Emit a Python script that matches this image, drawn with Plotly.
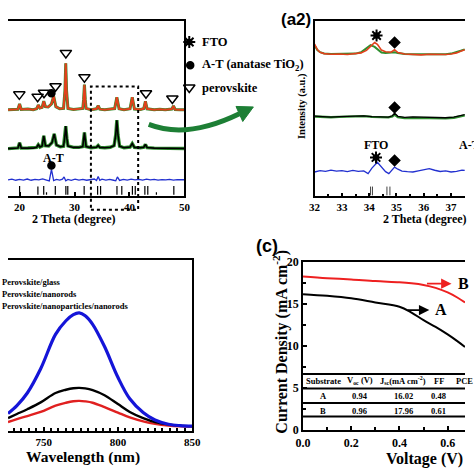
import plotly.graph_objects as go

W = H = 474
def px(x): return x / W
def py(y): return 1 - y / H

SERIF = "Liberation Serif, Times New Roman, serif"
SANS = "Liberation Sans, Arial, sans-serif"

# ---------------- (a1) XRD full range ----------------
a1_theta_top = [17.9, 19.0, 19.7, 20.0, 20.3, 21.5, 22.5, 23.1, 23.4, 23.7, 24.1, 24.4, 24.7, 25.2, 25.8, 26.2, 26.6,
                27.3, 28.0, 28.25, 28.4, 28.55, 28.8, 29.8, 30.8, 31.5, 31.65, 31.8, 31.95, 32.1, 33.0, 34.0, 34.3, 34.6,
                35.5, 36.5, 37.3, 37.7, 38.1, 39.0, 40.1, 40.5, 40.9, 42.0, 42.6, 42.9, 43.2, 44.5, 45.5, 46.5,
                47.7, 48.0, 48.3, 49.2, 50.0]
a1_int_top = [49.2, 49.6, 49.5, 52.5, 49.4, 49.7, 49.3, 49.8, 51.9, 50.2, 50.6, 54.1, 51.0, 50.8, 52.5, 56.9, 51.0,
              49.8, 50.0, 60.0, 75.7, 60.0, 50.0, 49.4, 49.6, 50.0, 55.0, 63.5, 55.0, 50.0, 49.3, 49.8, 51.5, 49.6,
              49.2, 49.4, 49.9, 56.4, 49.8, 49.3, 49.8, 56.4, 49.6, 49.4, 49.9, 54.1, 49.8, 49.3, 49.5, 49.2,
              49.6, 51.4, 49.4, 49.3, 49.2]
a1_theta_mid = [17.9, 19.0, 19.7, 20.0, 20.3, 21.5, 22.5, 23.1, 23.4, 23.7, 24.1, 24.4, 24.7, 25.3, 25.9, 26.3, 26.7,
                27.4, 28.0, 28.2, 28.4, 28.6, 28.8, 29.8, 30.8, 31.5, 31.8, 32.1, 33.0, 34.0, 34.3, 34.6, 35.5, 36.5,
                37.2, 37.5, 37.7, 37.9, 38.2, 39.0, 40.1, 40.5, 40.9, 42.0, 42.6, 42.9, 43.2, 44.5, 46.0, 48.0, 50.0]
a1_int_mid = [27.1, 27.3, 27.5, 30.4, 27.4, 27.5, 27.4, 27.8, 29.3, 28.0, 28.6, 34.4, 28.8, 28.6, 30.5, 35.5, 29.2,
              28.2, 28.5, 33.0, 39.9, 33.0, 28.6, 27.8, 27.8, 28.3, 36.3, 28.3, 27.6, 27.9, 28.9, 27.8, 27.6, 27.9,
              28.8, 35.0, 43.3, 35.0, 28.5, 27.6, 28.0, 30.0, 27.8, 27.6, 27.9, 29.5, 27.7, 27.4, 27.3, 27.3, 27.2]
a1_theta_bot = [17.9, 18.6, 19.3, 20.0, 20.7, 21.4, 22.1, 22.8, 23.5, 24.2, 24.9, 25.4, 25.8, 26.2, 26.7, 27.3, 27.8,
                28.1, 28.4, 28.8, 29.4, 30.1, 30.8, 31.5, 32.2, 32.9, 33.6, 34.0, 34.3, 34.6, 35.0, 35.7, 36.4, 37.1,
                37.5, 37.8, 38.2, 38.9, 39.6, 40.3, 41.0, 41.7, 42.4, 43.1, 43.8, 44.5, 45.2, 45.9, 46.6, 47.3,
                48.0, 48.7, 49.4, 50.0]
a1_int_bot = [9.3, 9.7, 9.1, 9.6, 9.2, 9.8, 9.1, 9.6, 9.3, 9.9, 9.2, 8.7, 15.3, 8.9, 9.6, 9.2, 9.7, 11.0, 8.8, 9.6,
              9.1, 9.7, 9.2, 9.6, 9.1, 9.5, 9.8, 8.9, 11.3, 9.1, 9.7, 9.2, 9.6, 9.1, 8.8, 11.0, 9.0, 9.6, 9.2, 9.7,
              9.3, 9.6, 9.2, 9.7, 9.3, 9.6, 9.2, 9.5, 9.3, 9.6, 9.2, 9.5, 9.3, 9.4]
a1_ref_theta = [20.0, 23.33, 24.39, 24.9, 26.5, 28.42, 28.77, 31.75, 34.2, 34.74, 37.72, 38.6, 40.53, 41.05,
                42.8, 43.33, 44.9, 48.07]
a1_ref_height = [5.0, 4.6, 5.0, 1.4, 5.0, 5.0, 5.0, 5.0, 5.0, 5.0, 5.0, 5.0, 5.0, 5.0, 5.0, 5.0, 1.4, 5.0]
a1_ref_base = 0.9
a1_pero_theta = [19.95, 23.28, 24.44, 26.54, 28.42, 31.8, 43.0, 47.8]
a1_pero_y = [58.0, 56.7, 58.9, 62.6, 81.6, 67.8, 58.6, 55.6]
a1_at_theta = [25.79, 25.79]
a1_at_y = [58.6, 17.5]
legend_labels = ["FTO", "A-T (anatase TiO<sub>2</sub>)", "perovskite"]

# ---------------- (a2) XRD zoom 32-38 ----------------
a2_theta_top = [32.0, 32.1, 32.2, 32.35, 32.6, 32.9, 33.2, 33.5, 33.7, 33.9, 34.05, 34.2, 34.3, 34.45, 34.6,
                34.8, 34.93, 35.05, 35.3, 35.6, 35.9, 36.2, 36.5, 36.8, 37.0, 37.2, 37.35, 37.5]
a2_int_top_red = [86.6, 83.5, 82.0, 81.2, 80.8, 81.0, 80.7, 81.0, 81.6, 83.0, 85.0, 87.5, 86.5, 83.2, 82.3,
                  82.0, 83.4, 81.8, 81.0, 80.6, 80.5, 80.8, 80.6, 80.7, 81.0, 81.6, 82.6, 83.4]
a2_int_top_grn = [86.0, 83.2, 82.0, 81.3, 81.0, 81.1, 81.0, 81.2, 82.0, 84.2, 86.0, 85.0, 83.5, 81.8, 81.5,
                  81.6, 81.9, 81.5, 81.0, 80.9, 80.8, 80.9, 80.8, 80.9, 81.2, 81.9, 82.8, 83.6]
a2_theta_mid = [32.0, 32.3, 32.6, 32.9, 33.2, 33.5, 33.8, 34.1, 34.4, 34.7, 34.85, 34.93, 35.05, 35.3, 35.6,
                35.9, 36.2, 36.5, 36.8, 37.1, 37.3, 37.5]
a2_int_mid_blk = [45.6, 45.2, 45.0, 45.3, 45.5, 45.9, 45.8, 45.3, 45.2, 45.0, 45.8, 47.3, 45.5, 44.9, 45.2,
                  45.0, 44.8, 44.9, 44.7, 45.0, 45.9, 46.4]
a2_int_mid_grn = [45.4, 45.1, 45.0, 45.2, 45.4, 45.7, 45.6, 45.2, 45.0, 44.9, 45.5, 46.5, 45.0, 44.5, 44.6,
                  44.5, 44.4, 44.5, 44.4, 44.7, 45.4, 46.0]
a2_theta_bot = [32.0, 32.2, 32.4, 32.6, 32.8, 33.0, 33.2, 33.4, 33.6, 33.8, 33.96, 34.1, 34.3, 34.45, 34.6,
                34.72, 34.85, 34.93, 35.05, 35.2, 35.4, 35.6, 35.8, 36.0, 36.2, 36.4, 36.6, 36.8, 37.0, 37.2,
                37.4, 37.5]
a2_int_bot = [13.8, 14.6, 14.2, 14.9, 14.3, 14.6, 14.0, 14.7, 14.2, 14.4, 12.9, 16.0, 19.3, 16.5, 14.0,
              12.9, 15.2, 16.6, 15.4, 14.3, 14.0, 13.8, 14.5, 15.1, 15.7, 14.8, 14.1, 14.4, 13.8, 14.2,
              14.9, 14.7]
a2_fto_theta = [34.27, 34.25]
a2_fto_y = [91.5, 22.1]
a2_dia_theta = [34.93, 34.93, 34.93]
a2_dia_y = [87.5, 50.5, 20.3]
a2_ref_theta = [34.05, 34.12, 34.65, 34.76]
a2_ref_base = 0.5
a2_ref_top = 5.5

# ---------------- (b) PL spectra ----------------
pl_wl = [726, 732, 739, 748, 758, 765, 770, 774, 778, 783, 791, 800, 808, 817, 825, 834, 842, 850]
pl_glass = [5.3, 7.0, 8.8, 11.2, 14.9, 16.6, 17.5, 17.7, 17.4, 16.6, 14.0, 10.8, 8.0, 5.7, 4.2, 3.2, 2.8, 2.7]
pl_rods = [7.6, 10.0, 12.8, 16.8, 22.3, 24.2, 25.1, 25.3, 25.0, 24.0, 21.0, 15.8, 11.2, 7.6, 5.3, 3.9, 3.2, 2.9]
pl_np_rods = [10.3, 14.9, 22.3, 36.5, 56.6, 64.6, 68.2, 69.2, 67.5, 62.5, 49.5, 31.5, 18.9, 10.9, 6.5, 4.0,
              3.2, 2.9]
pl_labels = ["Perovskite/glass", "Perovskite/nanorods", "Perovskite/nanoparticles/nanorods"]

# ---------------- (c) J-V curves ----------------
jv_v = [0.0, 0.1, 0.2, 0.3, 0.4, 0.45, 0.5, 0.55, 0.6, 0.64, 0.672]
jv_a = [16.2, 16.0, 15.7, 15.2, 14.7, 14.0, 13.1, 12.3, 11.4, 10.6, 9.9]
jv_b = [18.3, 18.1, 17.95, 17.75, 17.62, 17.5, 17.3, 16.95, 16.4, 15.8, 15.2]
tbl_header = ["Substrate", "V<sub>oc</sub> (V)", "J<sub>sc</sub>(mA cm<sup>-2</sup>)", "FF", "PCE (%)"]
tbl_row_a = ["A", "0.94", "16.02", "0.48"]
tbl_row_b = ["B", "0.96", "17.96", "0.61"]
tbl_lines_j = [6.7, 4.97, 3.24, 1.62]

RED = "#e2401c"
GRN = "#2f8f2f"
BLU = "#2230d0"

fig = go.Figure()

def sc(x, y, ax, color, width, **kw):
    fig.add_trace(go.Scatter(x=x, y=y, mode="lines", xaxis="x" + ax, yaxis="y" + ax,
                             line=dict(color=color, width=width), showlegend=False, hoverinfo="skip", **kw))

def mk(x, y, ax, symbol, size, color="black", lw=1.5, clip=True):
    fig.add_trace(go.Scatter(x=x, y=y, mode="markers", xaxis="x" + ax, yaxis="y" + ax, cliponaxis=clip,
                             marker=dict(symbol=symbol, size=size, color=color, line=dict(color=color, width=lw)),
                             showlegend=False, hoverinfo="skip"))

# a1 traces
sc(a1_theta_top, a1_int_top, "", GRN, 3.0)
sc(a1_theta_top, a1_int_top, "", RED, 2.0)
sc(a1_theta_mid, a1_int_mid, "", GRN, 3.4)
sc(a1_theta_mid, a1_int_mid, "", "black", 1.6)
sc(a1_theta_bot, a1_int_bot, "", BLU, 1.3)
stx, sty = [], []
for t, h in zip(a1_ref_theta, a1_ref_height):
    stx += [t, t, None]
    sty += [a1_ref_base, a1_ref_base + h, None]
sc(stx, sty, "", "black", 1.2)
mk(a1_pero_theta, a1_pero_y, "", "triangle-down-open", 10)
mk(a1_at_theta, a1_at_y, "", "circle", 7)

# a2 traces
sc(a2_theta_top, a2_int_top_grn, "2", GRN, 2.0)
sc(a2_theta_top, a2_int_top_red, "2", RED, 1.6)
sc(a2_theta_mid, a2_int_mid_grn, "2", GRN, 2.4)
sc(a2_theta_mid, a2_int_mid_blk, "2", "black", 1.3)
sc(a2_theta_bot, a2_int_bot, "2", BLU, 1.3)
s2x, s2y = [], []
for t in a2_ref_theta:
    s2x += [t, t, None]
    s2y += [a2_ref_base, a2_ref_top, None]
sc(s2x, s2y, "2", "#444444", 1.0)
mk(a2_fto_theta, a2_fto_y, "2", "circle", 5)
mk(a2_fto_theta, a2_fto_y, "2", "asterisk-open", 10, lw=2)
mk(a2_dia_theta, a2_dia_y, "2", "diamond", 8)

# b traces
sc(pl_wl, pl_glass, "3", "#e02020", 2.4, line_shape="spline")
sc(pl_wl, pl_rods, "3", "black", 2.4, line_shape="spline")
sc(pl_wl, pl_np_rods, "3", "#1515d8", 3.2, line_shape="spline")

# c traces
sc(jv_v, jv_b, "4", "#ee2020", 2.0, line_shape="spline")
sc(jv_v, jv_a, "4", "black", 2.0, line_shape="spline")

# legend glyphs of (a1) on a full-figure pixel overlay
mk([188], [36], "5", "circle", 5)
mk([188], [36], "5", "asterisk-open", 10, lw=2)
mk([189], [60], "5", "circle", 7)
mk([188], [83], "5", "triangle-down-open", 10)

axis_base = dict(showgrid=False, zeroline=False, linecolor="black", linewidth=2, ticks="inside",
                 tickcolor="black", tickwidth=1.5, ticklen=4, showline=True,
                 tickfont=dict(family=SERIF, size=11, color="black", weight="bold"))

def ax(**kw):
    d = dict(axis_base)
    d.update(kw)
    return d

dom_a_y = [py(195), py(14)]
fig.update_layout(
    width=W, height=H, margin=dict(l=0, r=0, t=0, b=0),
    paper_bgcolor="white", plot_bgcolor="rgba(0,0,0,0)",
    xaxis=ax(domain=[0, px(183)], range=[17.89, 50], tickvals=[20, 30, 40, 50], mirror=True,
             anchor="y"),
    yaxis=ax(domain=dom_a_y, range=[0, 100], side="right", ticks="", showticklabels=False, anchor="x"),
    xaxis2=ax(domain=[px(318), 1], range=[32, 37.51], tickvals=[32, 33, 34, 35, 36, 37], mirror=True,
              anchor="y2", ticklen=3, minor=dict(dtick=0.5, ticks="inside", ticklen=2, tickcolor="black")),
    yaxis2=ax(domain=dom_a_y, range=[0, 100], ticks="", showticklabels=False, anchor="x2"),
    xaxis3=ax(domain=[0, px(191)], range=[726, 850], tickvals=[750, 800, 850], mirror=True, anchor="y3",
              minor=dict(dtick=5, ticks="inside", ticklen=3, tickcolor="black")),
    yaxis3=ax(domain=[py(437), py(261)], range=[0, 100], side="right", ticks="", showticklabels=False,
              anchor="x3"),
    xaxis4=ax(domain=[px(306), 1], range=[0, 0.672], tickvals=[0, 0.2, 0.4, 0.6],
              ticktext=["0.0", "0.2", "0.4", "0.6"], mirror=True, anchor="y4",
              tickfont=dict(family=SERIF, size=12, color="black", weight="bold"),
              minor=dict(dtick=0.1, ticks="inside", ticklen=3, tickcolor="black")),
    yaxis4=ax(domain=[py(436), py(263)], range=[0, 20], tickvals=[0, 5, 10, 15, 20], anchor="x4",
              tickfont=dict(family=SERIF, size=12, color="black", weight="bold"),
              minor=dict(dtick=2.5, ticks="inside", ticklen=3, tickcolor="black")),
    xaxis5=dict(domain=[0, 1], range=[0, W], visible=False, anchor="y5", fixedrange=True),
    yaxis5=dict(domain=[0, 1], range=[H, 0], visible=False, anchor="x5", fixedrange=True),
)

ann = []
def txt(x, y, s, size, family=SERIF, xanchor="center", yanchor="middle", angle=0, color="black"):
    ann.append(dict(x=px(x), y=py(y), xref="paper", yref="paper", text=s, showarrow=False,
                    xanchor=xanchor, yanchor=yanchor, textangle=angle,
                    font=dict(family=family, size=size, color=color, weight="bold")))

# a1 texts
for lab, yy in zip(legend_labels, [36, 60, 83]):
    txt(199, yy, lab, 12.5, xanchor="left")
txt(47, 156, "A-T", 12)
txt(68, 218, "2 Theta (degree)", 12)
# a2 texts
txt(299, 13, "(a2)", 17, family=SANS)
txt(305, 102, "Intensity (a.u.)", 10.5, angle=-90)
txt(382, 142, "FTO", 12)
txt(466, 142, "A-T", 12, xanchor="left")
txt(432, 218, "2 Theta (degree)", 12)
# b texts
for lab, yy in zip(pl_labels, [283, 295.5, 308.5]):
    txt(-8, yy, lab, 8.5, xanchor="left")
txt(78, 464, "Wavelength (nm)", 15.5)
# c texts
txt(269, 246, "(c)", 18, family=SANS)
txt(283, 345, "Current Density (mA cm<sup>-2</sup>)", 16, angle=-90)
txt(432, 466, "Voltage (V)", 16)
txt(465, 285, "B", 16, xanchor="left")
txt(441, 312, "A", 16, xanchor="left")
cols = [327, 365, 410, 447, 482]
for c, s in zip(cols, tbl_header):
    txt(c, 385, s, 8.5)
for c, s in zip(cols, tbl_row_a):
    txt(c, 401, s, 8.5)
for c, s in zip(cols, tbl_row_b):
    txt(c, 416, s, 8.5)

# arrows in (c)
ann.append(dict(x=0.524, y=14.3, ax=0.428, ay=14.3, xref="x4", yref="y4", axref="x4", ayref="y4",
                text="", showarrow=True, arrowhead=2, arrowsize=1.3, arrowwidth=1.6, arrowcolor="black"))
ann.append(dict(x=0.616, y=17.45, ax=0.508, ay=17.45, xref="x4", yref="y4", axref="x4", ayref="y4",
                text="", showarrow=True, arrowhead=2, arrowsize=1.3, arrowwidth=1.6, arrowcolor="#ee2020"))
fig.update_layout(annotations=ann)

shapes = []
# table lines
for j in tbl_lines_j:
    shapes.append(dict(type="line", xref="x4 domain", yref="y4", x0=0, x1=1, y0=j, y1=j,
                       line=dict(color="black", width=2)))
# dotted zoom box in a1
shapes.append(dict(type="rect", xref="paper", yref="paper", x0=px(86), x1=px(135), y0=py(209), y1=py(82),
                   line=dict(color="black", width=2, dash="dot")))
# green arrow
def P(x, y): return f"{px(x):.4f},{py(y):.4f}"
shapes.append(dict(type="path", xref="paper", yref="paper",
                   path=f"M {P(146,121)} C {P(172,131)} {P(205,127)} {P(240,110)}",
                   line=dict(color="#1d7f35", width=5)))
shapes.append(dict(type="path", xref="paper", yref="paper",
                   path=f"M {P(254.5,103)} L {P(243.5,118)} L {P(236.5,102.5)} Z",
                   fillcolor="#1d7f35", line=dict(color="#1d7f35", width=1)))
fig.update_layout(shapes=shapes)

fig.write_html("out.html")
